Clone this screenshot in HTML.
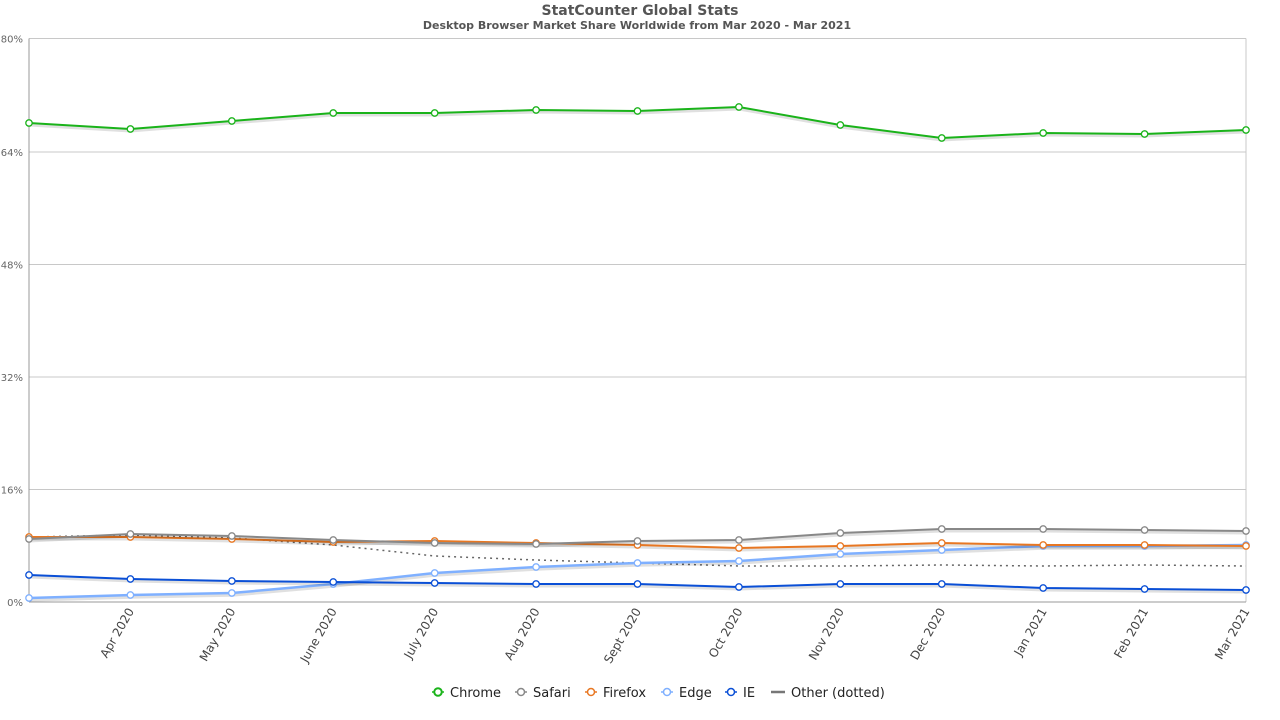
<!DOCTYPE html>
<html><head><meta charset="utf-8"><style>
body{margin:0;background:#fff;}
svg{display:block;font-family:"DejaVu Sans","Liberation Sans",sans-serif;}
</style></head><body>
<svg id="c" width="1280" height="720" xmlns="http://www.w3.org/2000/svg">
<text x="640" y="15" text-anchor="middle" font-size="14" font-weight="bold" fill="#555">StatCounter Global Stats</text>
<text x="637" y="29" text-anchor="middle" font-size="11" font-weight="bold" fill="#555">Desktop Browser Market Share Worldwide from Mar 2020 - Mar 2021</text>
<g id="grid"></g>
<g id="series"></g>
<g font-size="13" fill="#222">
<circle cx="438" cy="692" r="4" fill="#fff" stroke="#1ab31a" stroke-width="1.5"/><line x1="432" y1="692" x2="444" y2="692" stroke="#1ab31a" stroke-width="1.5"/><circle cx="438" cy="692" r="3.5" fill="#fff" stroke="#1ab31a" stroke-width="1.5"/>
<text x="450" y="697">Chrome</text>
<line x1="515" y1="692" x2="527" y2="692" stroke="#888" stroke-width="1.5"/><circle cx="521" cy="692" r="3.5" fill="#fff" stroke="#888" stroke-width="1.5"/>
<text x="533" y="697">Safari</text>
<line x1="585" y1="692" x2="597" y2="692" stroke="#e87722" stroke-width="1.5"/><circle cx="591" cy="692" r="3.5" fill="#fff" stroke="#e87722" stroke-width="1.5"/>
<text x="603" y="697">Firefox</text>
<line x1="661" y1="692" x2="673" y2="692" stroke="#7fb0ff" stroke-width="1.5"/><circle cx="667" cy="692" r="3.5" fill="#fff" stroke="#7fb0ff" stroke-width="1.5"/>
<text x="679" y="697">Edge</text>
<line x1="725" y1="692" x2="737" y2="692" stroke="#0a4fd6" stroke-width="1.5"/><circle cx="731" cy="692" r="3.5" fill="#fff" stroke="#0a4fd6" stroke-width="1.5"/>
<text x="743" y="697">IE</text>
<line x1="771" y1="692" x2="785" y2="692" stroke="#777" stroke-width="2.5"/>
<text x="791" y="697">Other (dotted)</text>
</g>
</svg>
<script>
var NS="http://www.w3.org/2000/svg";
function el(p,t,a,txt){var e=document.createElementNS(NS,t);for(var k in a)e.setAttribute(k,a[k]);if(txt)e.textContent=txt;p.appendChild(e);return e;}
var g=document.getElementById('grid'),s=document.getElementById('series');
var L=29,R=1246,T=38.5,B=602;
var ys=[["80%",38.5],["64%",152],["48%",264.5],["32%",377],["16%",489.5],["0%",602]];
ys.forEach(function(v){el(g,'line',{x1:L,x2:R,y1:v[1],y2:v[1],stroke:'#c8c8c8','stroke-width':1});
el(g,'text',{x:23,y:v[1]+4,'text-anchor':'end','font-size':10,fill:'#666'},v[0]);});
el(g,'line',{x1:R,x2:R,y1:T,y2:B,stroke:'#c8c8c8'});
el(g,'line',{x1:L,x2:L,y1:T,y2:B,stroke:'#999'});
el(g,'line',{x1:L,x2:R,y1:B,y2:B,stroke:'#999'});
var X=[];for(var i=0;i<13;i++)X.push(L+(R-L)*i/12);
var labs=["Apr 2020","May 2020","June 2020","July 2020","Aug 2020","Sept 2020","Oct 2020","Nov 2020","Dec 2020","Jan 2021","Feb 2021","Mar 2021"];
labs.forEach(function(t,i){var x=X[i+1]+4,y=611;el(g,'text',{x:x,y:y,'text-anchor':'end','font-size':12,fill:'#444',transform:'rotate(-60 '+x+' '+y+')'},t);});
function series(vals,col,w,dots,dash){
var pts=vals.map(function(v,i){return X[i]+','+v;}).join(' ');
if(!dash)el(s,'polyline',{points:vals.map(function(v,i){return X[i]+','+(v+2);}).join(' '),fill:'none',stroke:'rgba(0,0,0,0.12)','stroke-width':w+1});
var a={points:pts,fill:'none',stroke:col,'stroke-width':w};if(dash)a['stroke-dasharray']=dash;
el(s,'polyline',a);
if(dots)vals.forEach(function(v,i){el(s,'circle',{cx:X[i],cy:v,r:3.2,fill:'#fff',stroke:col,'stroke-width':1.3});});
}
series([537,535,538,545,556,560,563,566,566,565,566,565,566],'#666',1.5,false,'2,4');
series([598,595,593,584,573,567,563,561,554,550,546,546,545],'#7fb0ff',2.5,true);
series([575,579,581,582,583,584,584,587,584,584,588,589,590],'#0a4fd6',2,true);
series([537,537,539,542,541,543,545,548,546,543,545,545,546],'#e87722',2,true);
series([539,534,536,540,543,544,541,540,533,529,529,530,531],'#888',2,true);
series([123,129,121,113,113,110,111,107,125,138,133,134,130],'#1ab31a',2,true);
</script>
</body></html>
